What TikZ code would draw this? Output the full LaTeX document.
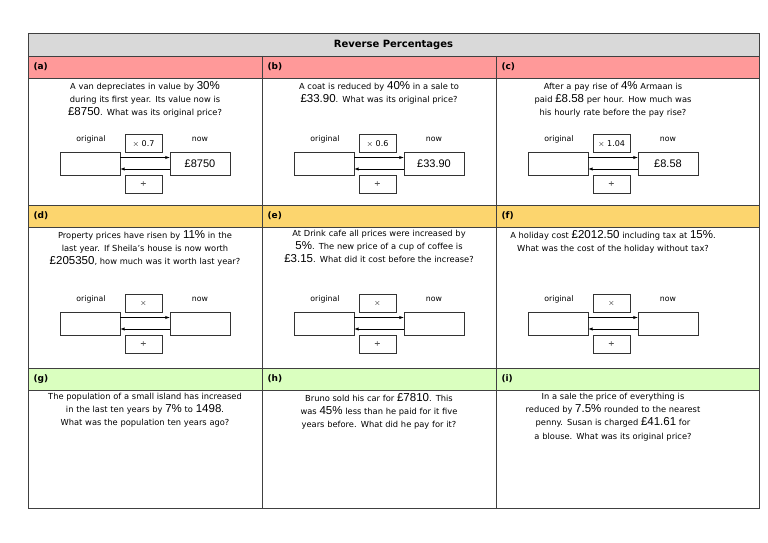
\documentclass[tikz,border=0pt]{standalone}
\usepackage{fontspec}
\setmainfont{DejaVu Sans}
\newfontfamily\numf{Liberation Sans}
\newcommand{\nm}[1]{{\numf\fontsize{11.5}{12}\selectfont #1}}
\begin{document}
\begin{tikzpicture}[x=1pt,y=-1pt,
  cell/.style={draw=black!75,line width=0.8pt},
  hdr/.style={anchor=west,font=\fontsize{9}{10}\selectfont\bfseries},
  q/.style={anchor=north,text width=216pt,align=center,font=\fontsize{8.3}{13.2}\selectfont,inner sep=0pt,
    execute at begin node={\hyphenpenalty=10000\exhyphenpenalty=10000}},
  bx/.style={draw=black!80,line width=0.6pt,minimum width=60pt,minimum height=23pt,inner sep=0pt,font=\numf\fontsize{11}{12}\selectfont},
  op/.style={draw=black!80,line width=0.6pt,minimum width=37pt,minimum height=18pt,inner sep=0pt,font=\fontsize{8}{9}\selectfont},
  lb/.style={font=\fontsize{7.8}{9}\selectfont},
  ar/.style={line width=0.5pt,-latex}]
\useasboundingbox (0,0) rectangle (768,543);
% backgrounds
\fill[black!15] (28,33) rectangle (759,56);
\foreach \x/\w in {28/234,262/234,496/263}{
  \fill[red!40!white] (\x,56) rectangle ++(\w,22);
  \fill[yellow!45!orange!55!white] (\x,205) rectangle ++(\w,22);
  \fill[green!45!lime!25!white] (\x,368) rectangle ++(\w,22);}
% grid
\draw[cell] (28,33) rectangle (759,508);
\foreach \y in {56,78,205,227,368,390} \draw[cell] (28,\y) -- (759,\y);
\draw[cell] (262,56) -- (262,508);
\draw[cell] (496,56) -- (496,508);
\node[font=\fontsize{10}{11}\selectfont\bfseries] (title) at (393.5,45) {Reverse Percentages};
% headers
\node[hdr] (ha) at (30,67) {(a)}; \node[hdr] (hb) at (264,67) {(b)}; \node[hdr] (hc) at (498,67) {(c)};
\node[hdr] (hd) at (30,216) {(d)}; \node[hdr] (he) at (264,216) {(e)}; \node[hdr] (hf) at (498,216) {(f)};
\node[hdr] (hg) at (30,379) {(g)}; \node[hdr] (hh) at (264,379) {(h)}; \node[hdr] (hi) at (498,379) {(i)};
% questions
\node[q] (qa) at (145,81) {A van depreciates in value by \nm{30\%} during its first year. Its value now is \nm{£8750}. What was its original price?};
\node[q] (qb) at (379,81) {A coat is reduced by \nm{40\%} in a sale to \nm{£33.90}. What was its original price?};
\node[q] (qc) at (613,81) {After a pay rise of \nm{4\%} Armaan is paid \nm{£8.58} per hour. How much was his hourly rate before the pay rise?};
\node[q] (qd) at (145,230) {Property prices have risen by \nm{11\%} in the last year. If Sheila’s house is now worth \nm{£205350}, how much was it worth last year?};
\node[q] (qe) at (379,230) {At Drink cafe all prices were increased by \nm{5\%}. The new price of a cup of coffee is \nm{£3.15}. What did it cost before the increase?};
\node[q] (qf) at (613,230) {A holiday cost \nm{£2012.50} including tax at \nm{15\%}. What was the cost of the holiday without tax?};
\node[q] (qg) at (145,393) {The population of a small island has increased in the last ten years by \nm{7\%} to \nm{1498}. What was the population ten years ago?};
\node[q] (qh) at (379,393) {Bruno sold his car for \nm{£7810}. This was \nm{45\%} less than he paid for it five years before. What did he pay for it?};
\node[q] (qi) at (613,393) {In a sale the price of everything is reduced by \nm{7.5\%} rounded to the nearest penny. Susan is charged \nm{£41.61} for a blouse. What was its original price?};
% diagrams
\foreach \n/\dx/\dy/\m/\v in {a/0/0/{$\times$ 0.7}/£8750, b/234/0/{$\times$ 0.6}/£33.90, c/468/0/{$\times$ 1.04}/£8.58,
  d/0/160/$\times$/{}, e/234/160/$\times$/{}, f/468/160/$\times$/{}}{
  \node[bx] (o\n) at (90+\dx,164+\dy) {};
  \node[bx] (w\n) at (200+\dx,164+\dy) {\v};
  \node[op] (m\n) at (143.5+\dx,143.5+\dy) {\m};
  \node[op] (d\n) at (143.5+\dx,184.5+\dy) {÷};
  \node[lb] (lo\n) at (91+\dx,139+\dy) {original};
  \node[lb] (ln\n) at (200+\dx,139+\dy) {now};
  \draw[ar] ([yshift=6.5pt]o\n.east) -- ([yshift=6.5pt]w\n.west);
  \draw[ar] ([yshift=-5pt]w\n.west) -- ([yshift=-5pt]o\n.east);
}
\end{tikzpicture}
\end{document}
